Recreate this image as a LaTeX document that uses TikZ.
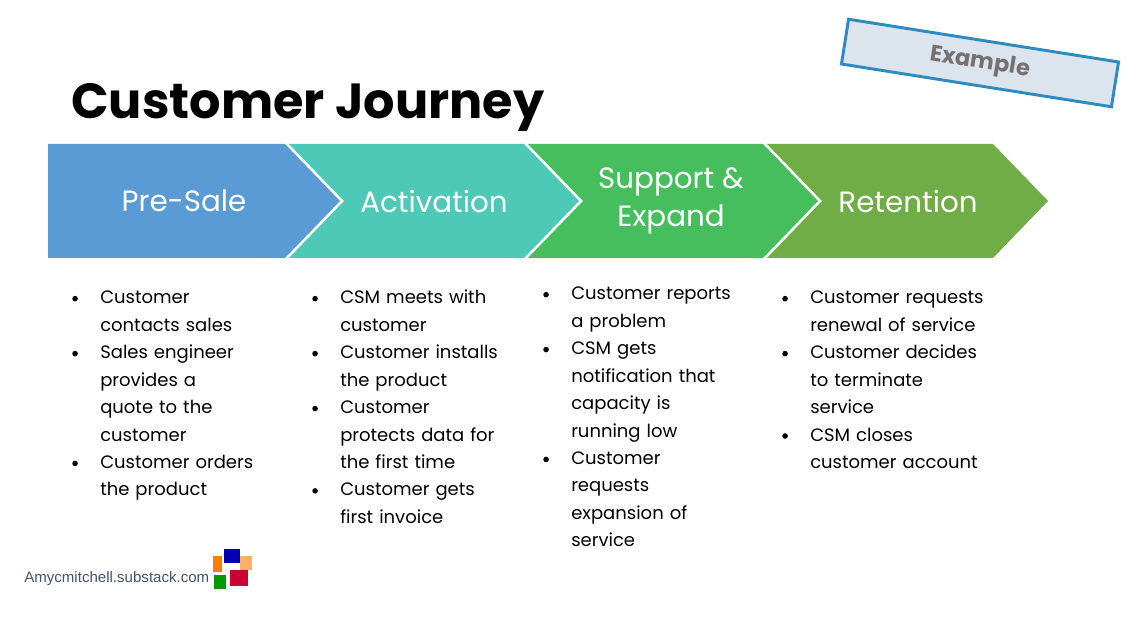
\documentclass[tikz,border=0pt]{standalone}
\usepackage{fontspec}
\setmainfont{Poppins}
\newfontfamily\footfont{Liberation Sans}
\usepackage{enumitem}
\usetikzlibrary{positioning}
\setlist[itemize]{leftmargin=21pt,labelindent=0pt,labelwidth=7pt,labelsep=14pt,align=left,
    label={\tikz[baseline=-3.8pt]\fill (0,0) circle (2.1pt);},itemsep=0pt,topsep=0pt,parsep=0pt,partopsep=0pt}

\definecolor{cj_blue}{HTML}{5B9BD5}
\definecolor{cj_teal}{HTML}{4FC9B7}
\definecolor{cj_green}{HTML}{47BE5E}
\definecolor{cj_olive}{HTML}{70AD47}
\definecolor{cj_frame}{HTML}{2E8BC0}
\definecolor{cj_paleblue}{HTML}{DCE4EE}
\definecolor{cj_grey}{HTML}{767171}
\definecolor{cj_foot}{HTML}{44546A}

\tikzset{
    stage/.style={font=\fontsize{22}{26}\selectfont, text=white, align=center},
    points/.style={anchor=north west, text width=175pt, align=left, inner sep=0pt,
        font=\fontsize{13.5}{20.6}\selectfont},
}

\begin{document}
\begin{tikzpicture}[x=0.75pt,y=-0.75pt]
    \useasboundingbox (0,0) rectangle (1136,623);
    %\draw[help lines] (0,0) grid (1136,623);
    % example tag
    \node[rotate=-9, draw=cj_frame, line width=2.2pt, fill=cj_paleblue,
          minimum width=205pt, minimum height=34pt, text=cj_grey,
          font=\fontsize{17}{20}\selectfont\bfseries] (tag) at (980,63) {Example};
    \node[anchor=base west, inner sep=0pt, font=\fontsize{37}{42}\selectfont\bfseries] (title) at (71,119) {Customer Journey};
    % chevrons
    \path[fill=cj_blue] (48,144) -- (285,144) -- (340,201) -- (285,258) -- (48,258) -- cycle;
    \path[fill=cj_teal] (289,144) -- (524,144) -- (579,201) -- (524,258) -- (289,258) -- (344,201) -- cycle;
    \path[fill=cj_green] (528,144) -- (763,144) -- (818,201) -- (763,258) -- (528,258) -- (583,201) -- cycle;
    \path[fill=cj_olive] (767,144) -- (993,144) -- (1048,201) -- (993,258) -- (767,258) -- (822,201) -- cycle;
    \node[stage] (presale) at (184,201) {Pre-Sale};
    \node[stage] (activation) at (434,201) {Activation};
    \node[stage, font=\fontsize{22}{28}\selectfont] (support) at (671,201) {Support \&\\Expand};
    \node[stage] (retention) at (908,201) {Retention};
    % bullet points
    \node[points] (list1) at (72,276) {\begin{itemize}
        \item Customer\\contacts sales
        \item Sales engineer\\provides a\\quote to the\\customer
        \item Customer orders\\the product
    \end{itemize}};
    \node[points] (list2) at (312,276) {\begin{itemize}
        \item CSM meets with\\customer
        \item Customer installs\\the product
        \item Customer\\protects data for\\the first time
        \item Customer gets\\first invoice
    \end{itemize}};
    \node[points] (list3) at (543,272) {\begin{itemize}
        \item Customer reports\\a problem
        \item CSM gets\\notification that\\capacity is\\running low
        \item Customer\\requests\\expansion of\\service
    \end{itemize}};
    \node[points] (list4) at (782,276) {\begin{itemize}
        \item Customer requests\\renewal of service
        \item Customer decides\\to terminate\\service
        \item CSM closes\\customer account
    \end{itemize}};
    % footer
    \node[anchor=base west, inner sep=0pt, text=cj_foot, font=\footfont\fontsize{11.3}{13}\selectfont] (site) at (24,583) {Amycmitchell.substack.com};
    \path[fill=white] (213,548) rectangle (253,590);
    \path[fill=orange] (213,556) rectangle (222,572);
    \path[fill=blue!70!black] (224,549) rectangle (240,563);
    \path[fill=orange!60] (240,556) rectangle (252,570);
    \path[fill=green!60!black] (214,575) rectangle (226,589);
    \path[fill=purple!80!red] (230,570) rectangle (248,586);
\end{tikzpicture}
\end{document}
